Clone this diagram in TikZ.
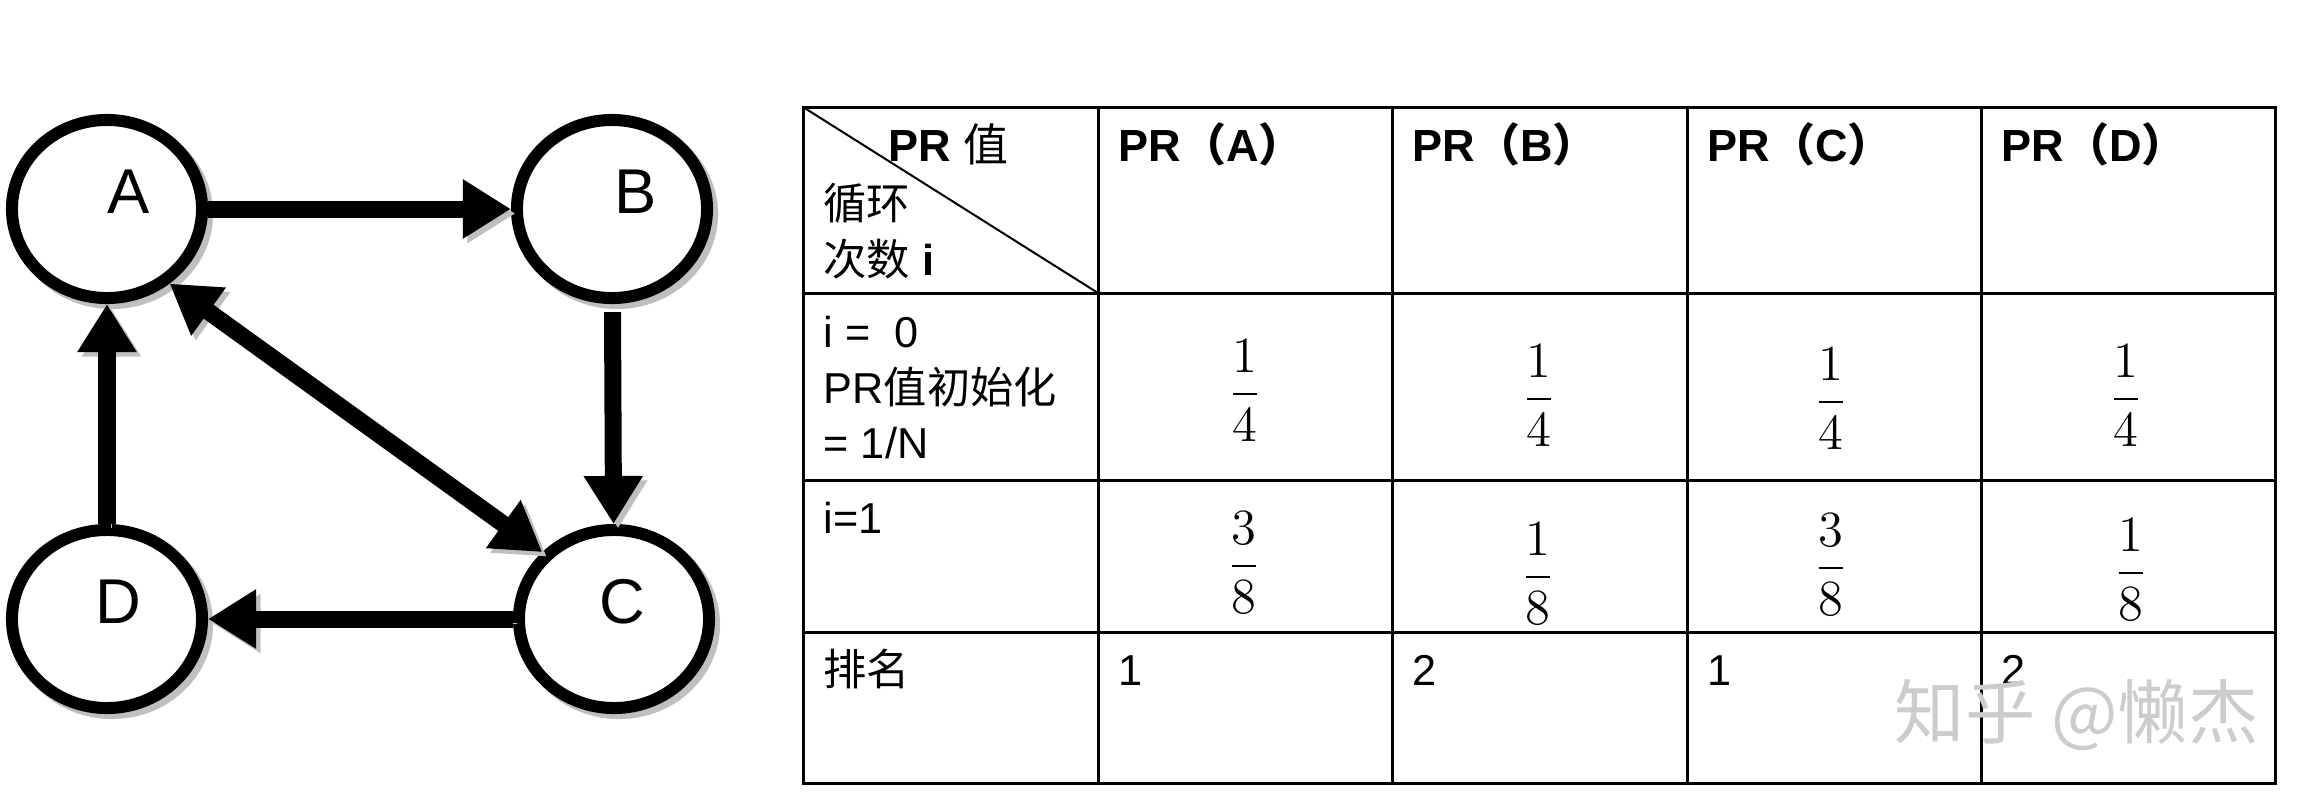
\documentclass[tikz,border=0pt]{standalone}
\usepackage{amsmath}
\usepackage{fontspec}
\setmainfont{Liberation Sans}
\newfontfamily\cjk{Noto Sans CJK SC}
\usetikzlibrary{calc,arrows.meta,shapes.geometric}

\begin{document}
\begin{tikzpicture}[x=0.01cm,y=-0.01cm,
	vert/.style={ellipse,draw,fill=white,line width=0.12cm,minimum width=1.9cm,minimum height=1.78cm,inner sep=0pt,
		preaction={draw=gray!50,transform canvas={shift={(0.05cm,-0.05cm)}}}},
	lbl/.style={font=\fontsize{18}{20}\selectfont},
	edge/.style={line width=0.17cm,-{Triangle[length=0.48cm,width=0.56cm]},
		preaction={draw=gray!50,transform canvas={shift={(0.045cm,-0.045cm)}}}},
	txt/.style={anchor=base west,inner sep=0pt,font=\fontsize{12.3}{14}\selectfont},
	head/.style={txt,font=\fontsize{12.8}{15}\selectfont\bfseries},
	frac/.style={inner sep=0pt,font=\fontsize{13.5}{16}\selectfont},
	grid/.style={line width=0.03cm}]
	\useasboundingbox (0,0) rectangle (2317,808);
	% graph
	\node[vert,label={[lbl,xshift=0.22cm,yshift=0.17cm]center:A}] (a) at (107,209) {};
	\node[vert,label={[lbl,xshift=0.24cm,yshift=0.17cm]center:B}] (b) at (612,209) {};
	\node[vert,label={[lbl,xshift=0.08cm,yshift=0.17cm]center:C}] (c) at (614,619) {};
	\node[vert,label={[lbl,xshift=0.11cm,yshift=0.17cm]center:D}] (d) at (107,619) {};
	\draw[edge] (a) -- (b); %A->B
	\draw[edge,shorten <=0.08cm] (b) -- (c); %B->C
	\draw[edge] (c) -- (d); %C->D
	\draw[edge] (d) -- (a); %D->A
	\draw[edge,{Triangle[length=0.48cm,width=0.56cm]}-{Triangle[length=0.48cm,width=0.56cm]}] (a.-50) -- (c.137); %A<->C
	% table
	\draw[grid] (803,107) rectangle (2275,783);
	\foreach \x in {1098,1392,1687,1981}
		\draw[grid] (\x,107) -- (\x,783);
	\foreach \y in {293,480,632}
		\draw[grid] (803,\y) -- (2275,\y);
	\draw[line width=0.02cm] (803,107) -- (1098,293); %斜线
	\node[head] (pr) at (888,161) {PR {\cjk\mdseries 值}};
	\node[txt] (loop1) at (823,219) {\cjk 循环};
	\node[txt] (loop2) at (823,275) {{\cjk 次数} \textbf{i}};
	\foreach \c/\x in {A/1118,B/1412,C/1707,D/2001}
		\node[head] (h\c) at (\x,161) {PR{\cjk （}\c{\cjk ）}};
	\node[txt] (init1) at (823,347) {i =\ \ 0};
	\node[txt] (init2) at (823,403) {PR{\cjk 值初始化}};
	\node[txt] (init3) at (823,458) {= 1/N};
	\node[txt] (iter1) at (823,533) {i=1};
	\node[txt] (rank) at (823,685) {\cjk 排名};
	\foreach \x/\y/\n/\d [count=\i] in {1245/391/1/4,1539/396/1/4,1831/399/1/4,2126/396/1/4,
		1244/563/3/8,1538/574/1/8,1831/565/3/8,2131/570/1/8}
		\node[frac] (f\i) at (\x,\y) {$\dfrac{\n}{\d}$};
	\foreach \x/\r [count=\i] in {1118/1,1412/2,1707/1,2001/2}
		\node[txt] (r\i) at (\x,685) {\r};
	\node[anchor=base west,inner sep=0pt,text=gray!40,font=\cjk\fontsize{20}{22}\selectfont] (mark) at (1894,738) {知乎 @懒杰}; %水印
\end{tikzpicture}
\end{document}
